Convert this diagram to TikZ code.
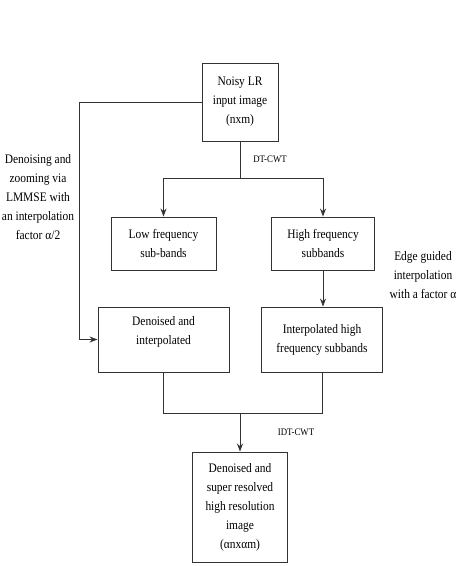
\documentclass[tikz,border=0pt]{standalone}
\usepackage{fontspec}
\setmainfont{Liberation Serif}[FakeStretch=0.88]
\usetikzlibrary{arrows.meta}
\begin{document}
\begin{tikzpicture}[x=1pt,y=-1pt,
  box/.style={draw=black!80,line width=0.9pt,align=center,inner sep=0pt,
    font=\fontsize{13}{19}\selectfont},
  lbl/.style={align=center,inner sep=0pt,font=\fontsize{13}{19}\selectfont},
  small/.style={inner sep=0pt,font=\fontsize{10}{12}\selectfont},
  conn/.style={draw=black!80,line width=0.8pt},
  arr/.style={conn,-{Stealth[length=8pt,width=6pt]}}]
\useasboundingbox (0,0) rectangle (474,566);
\node[box,minimum width=76pt,minimum height=78pt] (noisy) at (240,102) {Noisy LR\\input image\\(nxm)};
\node[box,minimum width=105pt,minimum height=53pt] (low) at (163.5,243.5) {Low frequency\\sub-bands};
\node[box,minimum width=103pt,minimum height=53pt] (high) at (323,243.5) {High frequency\\subbands};
\node[box,minimum width=131pt,minimum height=65pt] (den) at (163.5,339.5) {Denoised and\\interpolated\\\phantom{x}};
\node[box,minimum width=121pt,minimum height=65pt] (interp) at (322,339.5) {Interpolated high\\frequency subbands};
\node[box,minimum width=95pt,minimum height=110pt] (final) at (240,507) {Denoised and\\super resolved\\high resolution\\image\\(αnxαm)};
\coordinate (split) at (240,178);
\coordinate (merge) at (240,413);
\coordinate (lcorner) at (79,102);
\draw[conn] (noisy.south) -- (split);
\draw[arr] (split) -| (low.north);
\draw[arr] (split) -| (high.north);
\draw[arr] (high.south) -- (high.south |- interp.north);
\draw[arr] (noisy.west) -- (lcorner) |- (den.west);
\draw[conn] (den.south) |- (merge);
\draw[conn] (interp.south) |- (merge);
\draw[arr] (merge) -- (final.north);
\node[small] (dt) at (270,159) {DT-CWT};
\node[small] (idt) at (296,432) {IDT-CWT};
\node[lbl] (ll) at (38,197) {Denoising and\\zooming via\\LMMSE with\\an interpolation\\factor α/2};
\node[lbl] (rl) at (423,275) {Edge guided\\interpolation\\with a factor α};
\end{tikzpicture}
\end{document}
